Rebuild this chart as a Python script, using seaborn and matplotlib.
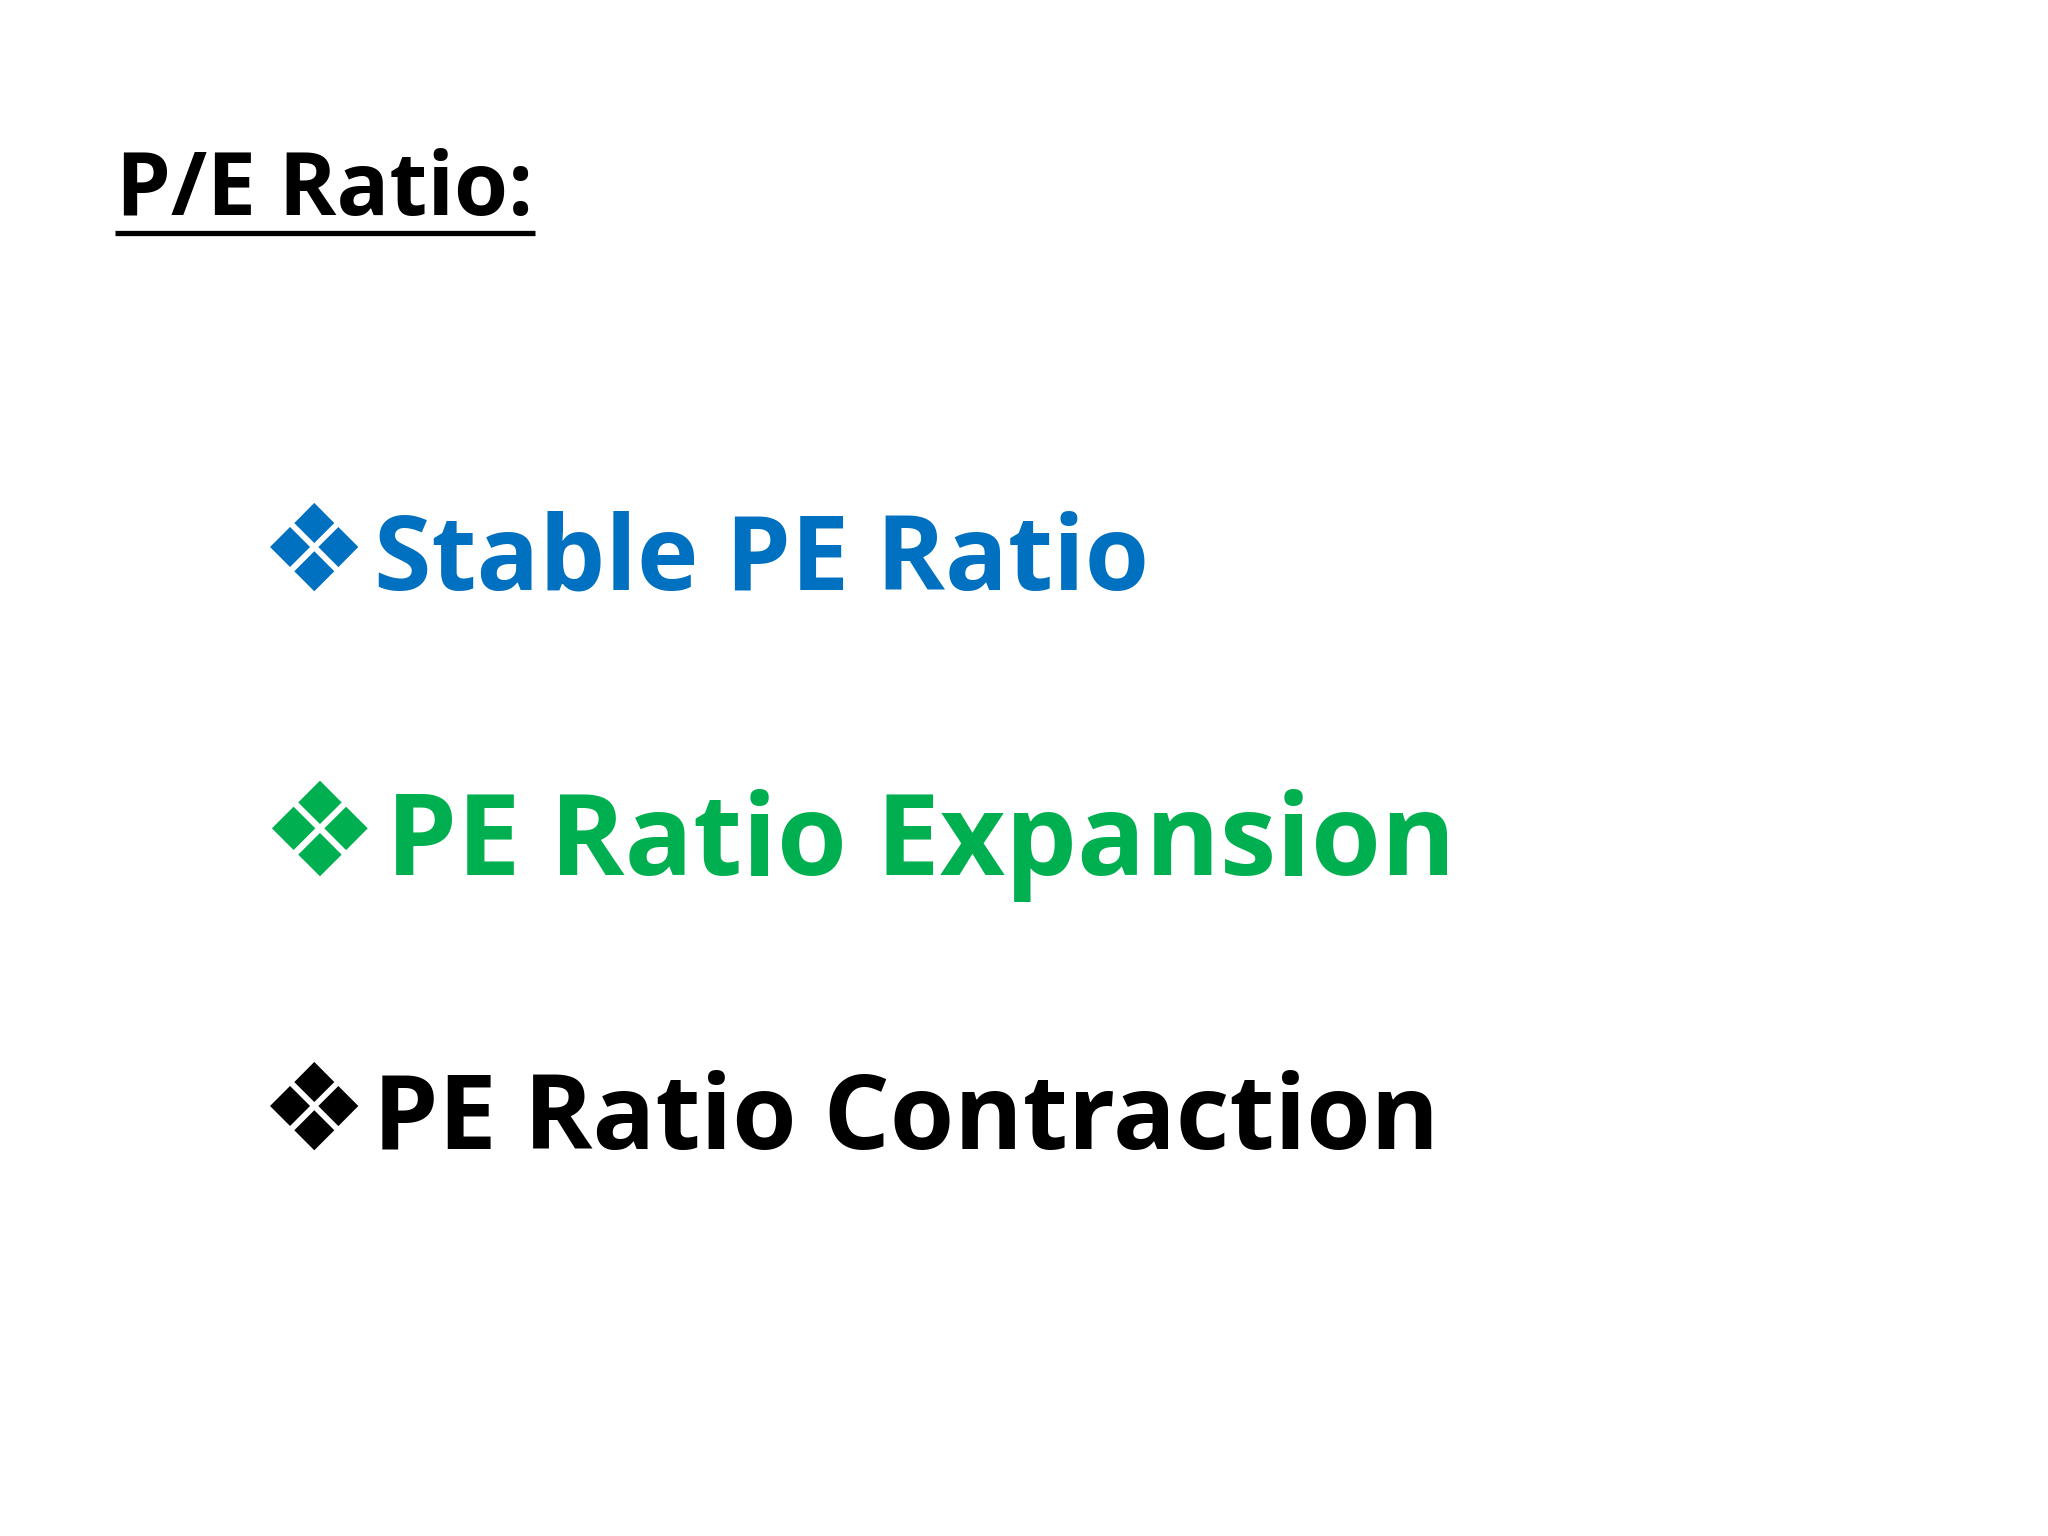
import matplotlib
matplotlib.use("Agg")
import matplotlib.pyplot as plt
import seaborn as sns

# 슬라이드 내용
title = "P/E Ratio:"
items = ["Stable PE Ratio", "PE Ratio Expansion", "PE Ratio Contraction"]
item_colors = ["#0070C0", "#00B050", "#000000"]
item_sizes = [60, 65.2, 60]
text_x = [374, 386, 373]
baselines = [590, 875, 1149]

sns.set_theme(style="white")
plt.rcParams['font.family'] = ['Open Sans', 'DejaVu Sans']

fig = plt.figure(figsize=(20.48, 15.36), dpi=100)
ax = fig.add_axes([0, 0, 1, 1])
ax.set_xlim(0, 2048)
ax.set_ylim(1536, 0)
ax.axis('off')

# 제목 + 밑줄
ax.text(116, 215, title, fontsize=63, fontweight='bold', color='black', va='baseline', ha='left')
ax.plot([115, 535], [233, 233], color='black', lw=3.8, solid_capstyle='butt')

# 글머리표 항목
for txt, c, s, x, y in zip(items, item_colors, item_sizes, text_x, baselines):
    ax.text(260, y + 1, "\u2756", fontsize=s * 1.45, color=c, va='baseline', ha='left', family='DejaVu Sans')
    ax.text(x, y, txt, fontsize=s * 1.25, fontweight='bold', color=c, va='baseline', ha='left')

fig.savefig('out.png', dpi=100, facecolor='white')
